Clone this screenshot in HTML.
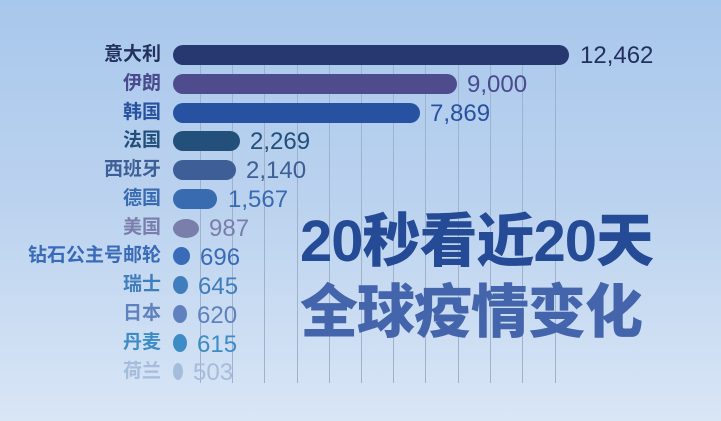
<!DOCTYPE html>
<html><head><meta charset="utf-8"><style>
*{margin:0;padding:0}
body{width:721px;height:421px;overflow:hidden;position:relative;background:linear-gradient(180deg,#a8c7ec 0%,#bcd3ef 50%,#d9e6f6 100%);font-family:"Liberation Sans","Noto Sans CJK SC",sans-serif}
.g{position:absolute;top:64px;height:319px;width:1px;background:#9fb2cc}
.l{position:absolute;right:560px;font-weight:bold;font-size:19px;line-height:20px;text-align:right;white-space:nowrap}
.b{position:absolute;left:173px;border-radius:10px}
.v{position:absolute;font-size:24px;line-height:24px;white-space:nowrap}
.t{position:absolute;left:300px;font-weight:900;font-size:58px;line-height:60px;white-space:nowrap;font-family:"Liberation Sans","Noto Sans CJK SC",sans-serif;letter-spacing:-1px}
</style></head><body>
<div class="g" style="left:200px"></div><div class="g" style="left:232px"></div><div class="g" style="left:264px"></div><div class="g" style="left:297px"></div><div class="g" style="left:329px"></div><div class="g" style="left:361px"></div><div class="g" style="left:393px"></div><div class="g" style="left:425px"></div><div class="g" style="left:458px"></div><div class="g" style="left:490px"></div><div class="g" style="left:522px"></div><div class="g" style="left:555px"></div>

<div class="l" style="top:45px;color:#22305e">意大利</div><div class="b" style="top:45px;height:20px;width:396px;background:#27376f"></div><div class="v" style="top:44px;left:580px;color:#22305e">12,462</div>
<div class="l" style="top:74px;color:#4a4a8e">伊朗</div><div class="b" style="top:74px;height:20px;width:284px;background:#4e4c8d"></div><div class="v" style="top:73px;left:467px;color:#4a4a8e">9,000</div>
<div class="l" style="top:103px;color:#2852a0">韩国</div><div class="b" style="top:103px;height:20px;width:247px;background:#2752a2"></div><div class="v" style="top:102px;left:430px;color:#2852a0">7,869</div>
<div class="l" style="top:131px;color:#22507a">法国</div><div class="b" style="top:131px;height:20px;width:67px;background:#22507a"></div><div class="v" style="top:130px;left:250px;color:#22507a">2,269</div>
<div class="l" style="top:160px;color:#3d5e96">西班牙</div><div class="b" style="top:160px;height:20px;width:63px;background:#3d5e96"></div><div class="v" style="top:159px;left:246px;color:#3d5e96">2,140</div>
<div class="l" style="top:189px;color:#386bb0">德国</div><div class="b" style="top:189px;height:20px;width:44px;background:#386bb0"></div><div class="v" style="top:188px;left:228px;color:#386bb0">1,567</div>
<div class="l" style="top:218px;color:#7a7eab">美国</div><div class="b" style="top:219px;height:19px;width:26px;background:#7a7eab;border-radius:50%"></div><div class="v" style="top:217px;left:209px;color:#7a7eab">987</div>
<div class="l" style="top:246px;color:#3a6bb8">钻石公主号邮轮</div><div class="b" style="top:247px;height:18px;width:17px;background:#3a6bb8;border-radius:50%"></div><div class="v" style="top:246px;left:200px;color:#3a6bb8">696</div>
<div class="l" style="top:275px;color:#3f7dbd">瑞士</div><div class="b" style="top:276px;height:18px;width:15px;background:#3f7dbd;border-radius:50%"></div><div class="v" style="top:275px;left:198px;color:#3f7dbd">645</div>
<div class="l" style="top:304px;color:#5f82bf">日本</div><div class="b" style="top:305px;height:18px;width:14px;background:#5f82bf;border-radius:50%"></div><div class="v" style="top:304px;left:197px;color:#5f82bf">620</div>
<div class="l" style="top:333px;color:#3e8cc6">丹麦</div><div class="b" style="top:334px;height:18px;width:14px;background:#3e8cc6;border-radius:50%"></div><div class="v" style="top:333px;left:197px;color:#3e8cc6">615</div>
<div class="l" style="top:362px;color:#a6bcdb">荷兰</div><div class="b" style="top:363px;height:17px;width:10px;background:#a6bcdb;border-radius:50%"></div><div class="v" style="top:361px;left:193px;color:#a6bcdb">503</div>

<div class="t" style="top:212px;color:#264b96">20秒看近20天</div>
<div class="t" style="top:283px;color:#4465ab">全球疫情变化</div>
</body></html>
